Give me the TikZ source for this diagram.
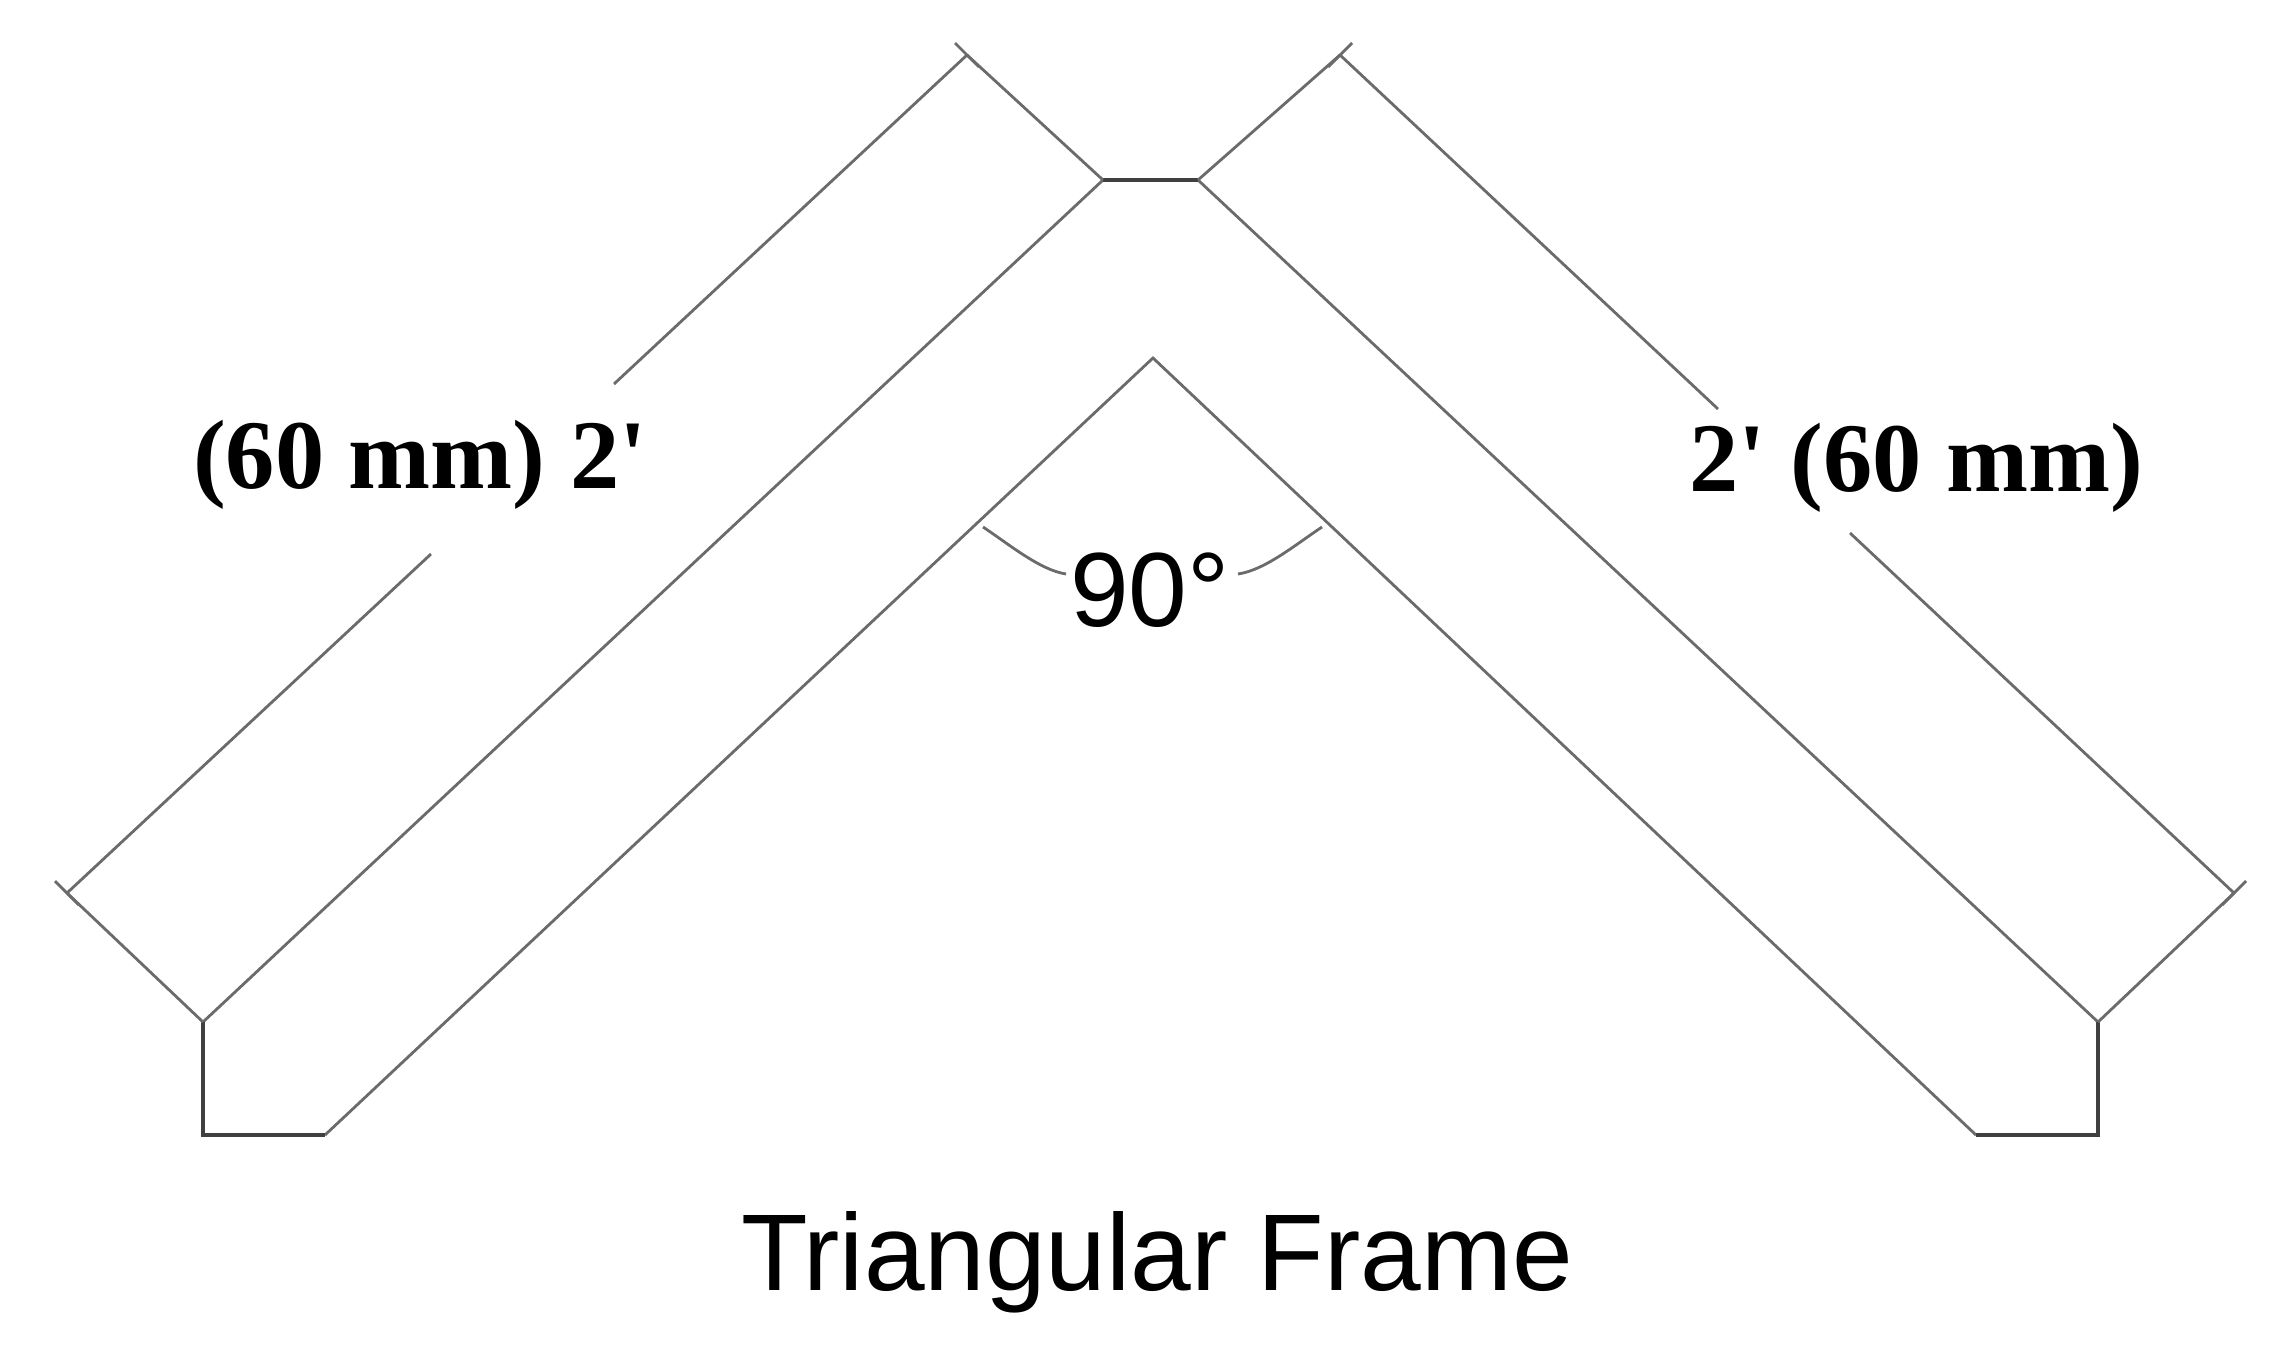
\documentclass[tikz,border=0pt]{standalone}
\usepackage{fontspec}
\setmainfont{Liberation Serif}
\setsansfont{Liberation Sans}
\begin{document}
\begin{tikzpicture}[x=0.01cm,y=-0.01cm,
  ln/.style={draw=black!58,line width=0.8pt},
  dk/.style={draw=black!75,line width=1.1pt},
  dimlabel/.style={font=\fontsize{28}{32}\selectfont\bfseries},
  anglabel/.style={font=\sffamily\fontsize{30}{34}\selectfont},
  caption/.style={font=\sffamily\fontsize{31}{36}\selectfont}]
\useasboundingbox (0,0) rectangle (2293,1354);
% left member
\coordinate (LT) at (967,55); \coordinate (LJ) at (1103,180);
\coordinate (LD) at (67,893); \coordinate (LC) at (203,1022);
\coordinate (LB) at (203,1135); \coordinate (LBR) at (325,1135);
\coordinate (AP) at (1153,358);
% right member
\coordinate (RT) at (1340,55); \coordinate (RJ) at (1198,180);
\coordinate (RD) at (2234,893); \coordinate (RC) at (2098,1022);
\coordinate (RB) at (2098,1135); \coordinate (RBL) at (1976,1135);
\draw[ln] (LC) -- (LJ);
\draw[ln] (RC) -- (RJ);
\draw[ln] (LBR) -- (AP) -- (RBL);
\draw[dk] (LC) -- (LB) -- (LBR);
\draw[dk] (RC) -- (RB) -- (RBL);
\draw[dk] (LJ) -- (RJ);
% extension lines
\draw[ln] (LT) -- (LJ);
\draw[ln] (LD) -- (LC);
\draw[ln] (RT) -- (RJ);
\draw[ln] (RD) -- (RC);
% dimension lines with gaps
\coordinate (LG1) at (431,554); \coordinate (LG2) at (614,384);
\coordinate (RG1) at (1718,409); \coordinate (RG2) at (1850,533);
\draw[ln] (LD) -- (LG1);
\draw[ln] (LG2) -- (LT);
\draw[ln] (RT) -- (RG1);
\draw[ln] (RG2) -- (RD);
% ticks
\draw[ln] (55,881) -- (79,905);
\draw[ln] (955,43) -- (979,67);
\draw[ln] (1328,67) -- (1352,43);
\draw[ln] (2222,905) -- (2246,881);
\node[dimlabel] (dl) at (420,465) {(60 mm) 2\textquotesingle};
\node[dimlabel] (dr) at (1916,468) {2\textquotesingle{} (60 mm)};
% angle
\coordinate (A1) at (983,527); \coordinate (A2) at (1322,527);
\node[anglabel] (ang) at (1150,590) {90°};
\draw[ln] (A1) .. controls (1010,545) and (1040,570) .. (1066,574);
\draw[ln] (1238,574) .. controls (1265,570) and (1295,545) .. (A2);
\node[caption] (cap) at (1157,1262) {Triangular Frame};
\end{tikzpicture}
\end{document}
